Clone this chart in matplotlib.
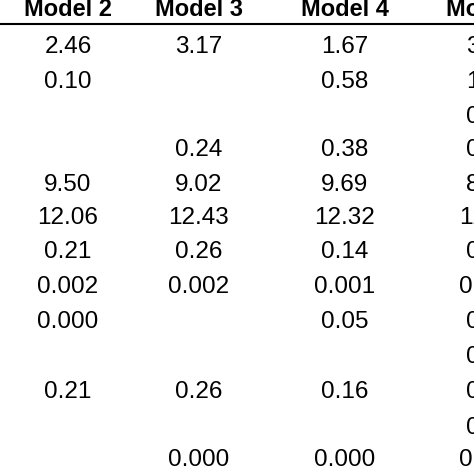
import matplotlib
matplotlib.use("Agg")
import matplotlib.pyplot as plt

headers = ["Model 2", "Model 3", "Model 4", "Model 5"]
model2 = ["2.46", "0.10", "", "", "9.50", "12.06", "0.21", "0.002", "0.000", "", "0.21", "", ""]
model3 = ["3.17", "", "", "0.24", "9.02", "12.43", "0.26", "0.002", "", "", "0.26", "", "0.000"]
model4 = ["1.67", "0.58", "", "0.38", "9.69", "12.32", "0.14", "0.001", "0.05", "", "0.16", "", "0.000"]
model5 = ["3.05", "1.12", "0.41", "0.33", "8.87", "12.10", "0.19", "0.001", "0.04", "0.02", "0.18", "0.03", "0.000"]

W = H = 474
fig = plt.figure(figsize=(4.74, 4.74), dpi=100)
ax = fig.add_axes([0, 0, 1, 1])
ax.set_xlim(0, W)
ax.set_ylim(H, 0)
ax.axis("off")

col_x = [68, 199, 345, 490]
row_y = [47, 82, 117, 150, 185, 218, 252, 287, 322, 357, 392, 428, 460]
fam = ["Liberation Sans", "DejaVu Sans"]

for x, h in zip(col_x, headers):
    ax.text(x, 9, h, ha="center", va="center", fontsize=17, fontweight="bold", family=fam)
ax.plot([0, W], [24, 24], color="black", lw=1.5)

for x, col in zip(col_x, [model2, model3, model4, model5]):
    for y, v in zip(row_y, col):
        if v:
            ax.text(x, y, v, ha="center", va="center", fontsize=17.5, family=fam)

fig.savefig("out.png", dpi=100)
